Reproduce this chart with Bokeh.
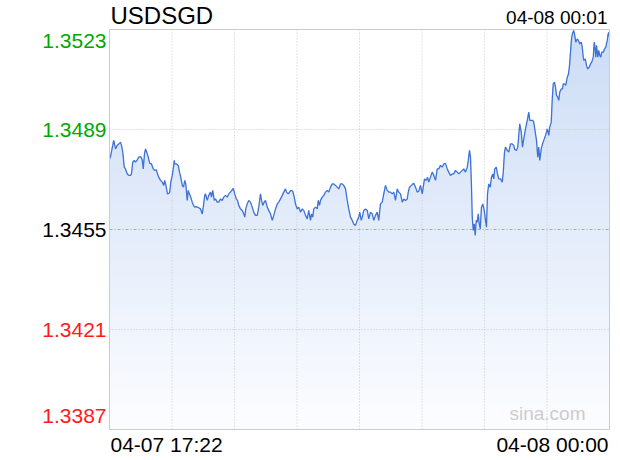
import numpy as np
from bokeh.plotting import figure
from bokeh.models import Range1d, Label
from bokeh.embed import file_html
from bokeh.resources import INLINE

symbol = "USDSGD"
last_time = "04-08 00:01"
start_label = "04-07 17:22"
end_label = "04-08 00:00"
watermark = "sina.com"
prev_close = 1.3455
y_ticks = [1.3387, 1.3421, 1.3455, 1.3489, 1.3523]
x_grid_minutes = [50, 100, 150, 200, 250, 300, 350]
session_minutes = 400

# minutes after 17:22
minutes = [
    0.0, 0.8, 3.4, 4.8, 6.2, 7.4, 8.8, 9.6, 10.6, 11.8, 12.8, 14.2, 15.4, 16.8, 17.6, 18.6, 19.8, 20.8,
    22.2, 23.4, 25.0, 26.2, 27.0, 28.0, 28.8, 29.8, 31.0, 32.2, 33.6, 35.0, 36.0, 37.4, 38.4, 39.4, 40.8,
    42.2, 43.4, 44.2, 45.4, 46.4, 47.4, 48.2, 49.0, 50.2, 51.2, 51.8, 52.2, 53.6, 55.0, 56.0, 57.0, 58.2,
    59.2, 60.2, 61.0, 62.2, 63.0, 64.0, 65.0, 66.2, 67.2, 68.2, 69.4, 70.4, 71.4, 72.8, 74.2, 75.2, 76.2,
    76.8, 78.2, 79.4, 80.8, 81.6, 82.6, 83.8, 84.8, 86.2, 87.4, 88.8, 90.2, 91.4, 92.8, 94.2, 95.4, 96.8,
    98.2, 99.0, 100.2, 101.4, 102.4, 103.4, 104.8, 106.2, 107.4, 108.2, 109.0, 110.2, 111.4, 112.8, 114.2,
    115.4, 116.8, 118.2, 119.4, 120.8, 121.6, 122.6, 123.8, 124.8, 126.2, 127.4, 128.8, 130.2, 131.4, 132.8,
    134.2, 135.4, 136.8, 138.2, 139.4, 140.8, 141.6, 143.0, 144.0, 145.0, 146.6, 147.8, 148.8, 150.2, 151.4,
    152.8, 154.2, 155.4,
    156.8, 158.2, 159.4, 160.8, 161.6, 162.6, 163.4, 164.8, 166.2, 167.0, 168.0, 168.8, 170.2, 171.4, 172.8,
    174.2, 175.4, 176.8, 178.2, 179.4, 180.8, 182.2, 183.4, 184.8, 186.2, 187.4, 188.8, 190.2, 191.4, 192.8,
    194.2, 195.4, 196.8, 198.2, 199.4, 200.2, 201.4, 202.2, 203.4, 204.8, 206.2, 207.4, 208.8, 210.2, 211.4,
    212.8, 214.2, 215.4, 216.8, 218.2, 219.4, 220.8, 222.2, 223.4, 224.8, 226.2, 227.4, 228.8, 230.2, 231.4,
    232.8, 234.2, 235.4,
    236.8, 238.2, 239.0, 240.0, 241.6, 242.6, 243.4, 244.8, 246.2, 247.4, 248.8, 250.2, 251.0, 252.0, 253.4,
    254.4, 255.4, 256.8, 258.2, 259.4, 260.8, 262.2, 263.4, 264.8, 266.2, 267.4, 268.8, 270.2, 271.4, 272.8,
    274.2, 275.4, 276.8, 278.2, 279.4, 280.8, 282.2, 283.4, 284.8, 286.2, 287.0, 288.0, 288.8, 289.6, 290.2,
    291.0, 291.8, 292.6, 293.4, 294.2, 295.0, 295.8, 296.6, 297.6, 298.6, 299.8, 300.8, 301.6, 302.4, 303.4,
    304.6, 305.6, 306.6, 307.4, 308.2, 309.4, 310.4, 311.4,
    312.8, 314.2, 315.0, 316.0, 316.8, 318.2, 319.4, 320.8, 322.2, 323.4, 324.2, 325.6, 326.6, 327.4, 328.2,
    329.4, 330.4, 331.4, 332.8, 334.2, 335.4, 336.2, 337.4, 338.6, 339.4, 340.6, 341.6, 342.6, 343.4, 344.2,
    345.4, 346.4, 347.4, 348.8, 350.2, 351.4, 352.2, 353.4, 354.2, 355.0, 356.0, 356.8, 357.6, 358.6, 359.4,
    360.2, 361.4, 362.4, 363.0, 364.0, 365.0, 366.2, 367.2, 368.0, 368.8, 369.6, 370.4, 371.4, 372.2, 373.0,
    374.2, 375.2, 376.2, 377.4, 378.2, 379.0, 379.4, 380.6, 381.6, 382.6, 383.8, 384.8, 385.8, 387.0, 387.8,
    388.6, 389.0, 389.6, 390.2, 390.6, 391.4, 392.2, 393.0, 393.8, 395.0, 396.0, 397.0, 398.2, 399.0, 399.8,
    400.0,
]

prices = [
    1.34790, 1.34798, 1.34853, 1.34824, 1.34836, 1.34841, 1.34847, 1.34836, 1.34813, 1.34762, 1.34756, 1.34739,
    1.34734, 1.34734, 1.34739, 1.34779, 1.34785, 1.34779, 1.34787, 1.34796, 1.34798, 1.34787, 1.34756, 1.34807,
    1.34824, 1.34813, 1.34796, 1.34775, 1.34773, 1.34756, 1.34751, 1.34753, 1.34739, 1.34728, 1.34717, 1.34711,
    1.34700, 1.34717, 1.34694, 1.34671, 1.34673, 1.34677, 1.34711, 1.34734, 1.34762, 1.34785, 1.34773, 1.34773,
    1.34768, 1.34745, 1.34728, 1.34700, 1.34694, 1.34717, 1.34705, 1.34649, 1.34683, 1.34671, 1.34660, 1.34643,
    1.34632, 1.34626, 1.34628, 1.34626, 1.34624, 1.34620, 1.34603, 1.34632, 1.34666,
    1.34671, 1.34649, 1.34666, 1.34677, 1.34660, 1.34683, 1.34649, 1.34654, 1.34643, 1.34643, 1.34654, 1.34649,
    1.34660, 1.34666, 1.34660, 1.34671, 1.34677, 1.34685, 1.34690, 1.34671, 1.34654, 1.34649, 1.34632, 1.34620,
    1.34615, 1.34603, 1.34592, 1.34620, 1.34637, 1.34649, 1.34643, 1.34626, 1.34609, 1.34598, 1.34598, 1.34626,
    1.34671, 1.34649, 1.34632, 1.34643, 1.34649, 1.34626, 1.34615, 1.34603, 1.34581, 1.34598, 1.34620, 1.34637,
    1.34643, 1.34654, 1.34666, 1.34677, 1.34688, 1.34677, 1.34671, 1.34677, 1.34683, 1.34680, 1.34660, 1.34637,
    1.34620, 1.34626, 1.34609, 1.34620, 1.34615,
    1.34598, 1.34586, 1.34615, 1.34581, 1.34603, 1.34592, 1.34620, 1.34626, 1.34620, 1.34649, 1.34632, 1.34649,
    1.34660, 1.34666, 1.34677, 1.34683, 1.34677, 1.34694, 1.34705, 1.34705, 1.34700, 1.34694, 1.34688, 1.34705,
    1.34705, 1.34700, 1.34688, 1.34649, 1.34620, 1.34592, 1.34581, 1.34569, 1.34564, 1.34581, 1.34592, 1.34609,
    1.34581, 1.34592, 1.34615, 1.34620, 1.34615, 1.34586, 1.34609, 1.34603, 1.34581, 1.34598, 1.34609, 1.34581,
    1.34637, 1.34643, 1.34671, 1.34700, 1.34683, 1.34677, 1.34677, 1.34671, 1.34677, 1.34649, 1.34688, 1.34677,
    1.34671, 1.34643, 1.34654,
    1.34649, 1.34654, 1.34677, 1.34694, 1.34700, 1.34705, 1.34707, 1.34694, 1.34677, 1.34680, 1.34700, 1.34671,
    1.34694, 1.34722, 1.34717, 1.34728, 1.34711, 1.34728, 1.34745, 1.34734, 1.34717, 1.34756, 1.34756, 1.34768,
    1.34762, 1.34773, 1.34775, 1.34756, 1.34745, 1.34734, 1.34739, 1.34739, 1.34751, 1.34745, 1.34739, 1.34745,
    1.34751, 1.34756, 1.34745, 1.34762, 1.34785, 1.34819, 1.34796, 1.34694, 1.34592, 1.34547, 1.34569, 1.34530,
    1.34581, 1.34575, 1.34603, 1.34569, 1.34552, 1.34626, 1.34637, 1.34615, 1.34581, 1.34558, 1.34671, 1.34705,
    1.34694, 1.34728, 1.34739, 1.34722, 1.34756, 1.34762, 1.34739, 1.34722,
    1.34722, 1.34711, 1.34745, 1.34813, 1.34830, 1.34819, 1.34813, 1.34841, 1.34841, 1.34836, 1.34822, 1.34819,
    1.34830, 1.34870, 1.34909, 1.34881, 1.34830, 1.34858, 1.34892, 1.34921, 1.34949, 1.34921, 1.34921, 1.34921,
    1.34915, 1.34881, 1.34853, 1.34796, 1.34830, 1.34785, 1.34824, 1.34841, 1.34853, 1.34870, 1.34892, 1.34870,
    1.34898, 1.34915, 1.34994, 1.35045, 1.35051, 1.35034, 1.35006, 1.35000, 1.34989, 1.35017, 1.35028, 1.35028,
    1.35045, 1.35045, 1.35040, 1.35068, 1.35079, 1.35108, 1.35153, 1.35198, 1.35217, 1.35227, 1.35210, 1.35187,
    1.35198, 1.35193, 1.35181, 1.35187, 1.35170, 1.35136, 1.35125, 1.35130, 1.35108, 1.35096, 1.35102, 1.35113,
    1.35119, 1.35136, 1.35187, 1.35159, 1.35136, 1.35176, 1.35153, 1.35136, 1.35159, 1.35142, 1.35136, 1.35153,
    1.35153, 1.35164, 1.35170, 1.35193, 1.35217, 1.35221, 1.35204,
]

FONT = "Liberation Sans"
y_lo, y_hi = y_ticks[0], y_ticks[-1]

# page layout in pixels: the chart box spans 500 x 400 px inside a 612 x 456 canvas
W, H = 612, 456
box_left, box_top, box_w, box_h = 109, 29, 500, 400
px_per_min = box_w / session_minutes
px_per_unit = box_h / (y_hi - y_lo)
x_range = Range1d(-box_left / px_per_min, session_minutes + (W - box_left - box_w) / px_per_min)
y_range = Range1d(y_lo - (H - box_top - box_h) / px_per_unit, y_hi + box_top / px_per_unit)

p = figure(width=W, height=H, output_backend="svg", toolbar_location=None, title=None,
           x_range=x_range, y_range=y_range,
           min_border_left=0, min_border_right=0, min_border_top=0, min_border_bottom=0)
p.xaxis.visible = False
p.yaxis.visible = False
p.xgrid.visible = False
p.ygrid.visible = False
p.outline_line_color = None
p.background_fill_color = "white"
p.border_fill_color = "white"

# gradient fill under the line, built from stacked opaque bands
xs = np.array(minutes)
ys = np.array(prices)
n_bands = 60
levels = np.linspace(y_lo, y_hi, n_bands + 1)[:-1]
c_bot = np.array([0xfc, 0xfd, 0xff], dtype=float)
c_top = np.array([0xcc, 0xdc, 0xf6], dtype=float)
for k, lev in enumerate(levels):
    f = (k + 0.5) / n_bands
    c = c_bot + (c_top - c_bot) * f
    col = "#%02x%02x%02x" % tuple(int(round(v)) for v in c)
    p.varea(x=xs, y1=lev, y2=np.maximum(ys, lev), fill_color=col)

# grid lines
p.segment(x0=x_grid_minutes, y0=y_lo, x1=x_grid_minutes, y1=y_hi,
          line_color="#c8c8c8", line_dash="1 2", line_width=1)
h_grid = [t for t in y_ticks[1:-1] if t != prev_close]
p.segment(x0=0, y0=h_grid, x1=session_minutes, y1=h_grid,
          line_color="#c8c8c8", line_dash="1 2", line_width=1)
p.segment(x0=[0], y0=[prev_close], x1=[session_minutes], y1=[prev_close],
          line_color="#a8a8a8", line_dash="3 2 1 2", line_width=1)

p.line(xs, ys, line_color="#3d72d6", line_width=1.3)

# chart box border
p.quad(left=[0], right=[session_minutes], bottom=[y_lo], top=[y_hi],
       fill_color=None, line_color="#cccccc", line_width=1)

# y tick labels
offsets = {0: 14, len(y_ticks) - 1: -11}
for i, t in enumerate(y_ticks):
    if t > prev_close:
        col = "#00a800"
    elif t < prev_close:
        col = "#ff1a1a"
    else:
        col = "#000000"
    p.add_layout(Label(x=0, y=t, x_offset=-3, y_offset=offsets.get(i, 0), text="%.4f" % t,
                       text_align="right", text_baseline="middle", text_color=col,
                       text_font=FONT, text_font_size="21px"))

p.add_layout(Label(x=0, y=y_hi, x_offset=1, y_offset=14, text=symbol, text_align="left",
                   text_baseline="middle", text_color="#000000", text_font=FONT, text_font_size="24px"))
p.add_layout(Label(x=session_minutes, y=y_hi, x_offset=-2, y_offset=12, text=last_time, text_align="right",
                   text_baseline="middle", text_color="#000000", text_font=FONT, text_font_size="19px"))
p.add_layout(Label(x=0, y=y_lo, x_offset=1, y_offset=-15, text=start_label, text_align="left",
                   text_baseline="middle", text_color="#000000", text_font=FONT, text_font_size="21px"))
p.add_layout(Label(x=session_minutes, y=y_lo, x_offset=-1, y_offset=-15, text=end_label, text_align="right",
                   text_baseline="middle", text_color="#000000", text_font=FONT, text_font_size="21px"))
p.add_layout(Label(x=session_minutes, y=y_lo, x_offset=-24, y_offset=16, text=watermark, text_align="right",
                   text_baseline="middle", text_color="#cccccc", text_font=FONT, text_font_size="19px"))

open("out.html", "w").write(file_html(p, INLINE))
